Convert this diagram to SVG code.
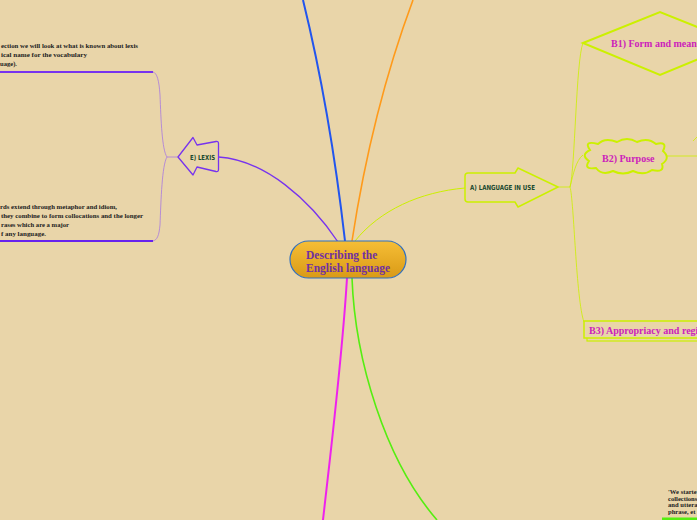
<svg xmlns="http://www.w3.org/2000/svg" width="697" height="520" viewBox="0 0 697 520">
<defs>
<linearGradient id="gold" x1="0" y1="0" x2="0" y2="1">
<stop offset="0" stop-color="#F6BE36"/>
<stop offset="1" stop-color="#D99A16"/>
</linearGradient>
</defs>
<style>
.note{font-family:"Liberation Serif","Times New Roman",serif;font-weight:bold;font-size:6.6px;fill:#222}
.btxt{font-family:"Liberation Serif","Times New Roman",serif;font-weight:bold;font-size:10px;fill:#CC22BB}
.ntxt{font-family:"DejaVu Sans Condensed","DejaVu Sans",sans-serif;font-weight:bold;font-size:7px;fill:#1A4A30}
.yg{fill:none;stroke:#CCF000}
</style>
<rect width="697" height="520" fill="#E9D5A9"/>
<g id="connectors" fill="none">
<path d="M345,241 Q330,110 303,0" stroke="#2255EE" stroke-width="2"/>
<path d="M352,241 Q372,110 413,0" stroke="#FF9A1A" stroke-width="1.6"/>
<path d="M338,242 C310,200 265,160 218.5,157" stroke="#7733EE" stroke-width="1.3"/>
<path d="M355,241 C380,210 420,192 465,188" stroke="#CCF000" stroke-width="1"/>
<path d="M347,278 C342,360 332,440 323,520" stroke="#EE22EE" stroke-width="2"/>
<path d="M352,278 C355,360 385,460 437,520" stroke="#55EE11" stroke-width="1.6"/>
<path d="M178,157 L167,157 C162,150 161,120 160,95 C159,80 157,73 153,72" stroke="#A878E0" stroke-width="0.8"/>
<path d="M167,157 C162,165 161,200 160,225 C159,236 157,240 153,241" stroke="#A878E0" stroke-width="0.8"/>
<path d="M0,72 L153,72" stroke="#7733EE" stroke-width="2"/>
<path d="M0,241 L153,241" stroke="#6622EE" stroke-width="2"/>
<path d="M558,187 L570,187" class="yg" stroke-width="0.8"/>
<path d="M570,187 C575,170 576,60 583,43" class="yg" stroke-width="0.8"/>
<path d="M570,187 C573,175 576,160 583,155" class="yg" stroke-width="0.8"/>
<path d="M570,187 C574,200 576,300 584,322" class="yg" stroke-width="0.8"/>
<path d="M667,156 L697,156" class="yg" stroke-width="0.8"/>
<path d="M693,141 L697,137" class="yg" stroke-width="0.8"/>
<path d="M662,519 L697,519" stroke="#55EE11" stroke-width="3"/>
</g>
<g id="center">
<rect x="290" y="241" width="116" height="37" rx="18.5" fill="url(#gold)" stroke="#3070C0" stroke-width="1.2"/>
<text x="306" y="259" font-family="Liberation Serif,serif" font-weight="bold" font-size="11.5" fill="#7030A0">Describing the</text>
<text x="306" y="271.5" font-family="Liberation Serif,serif" font-weight="bold" font-size="11.5" fill="#7030A0">English language</text>
</g>
<g id="nodeE">
<path d="M178,157 L193,137.5 L197,145 L216,141.5 Q218.5,141 218.5,143.5 L218.5,169.5 Q218.5,172 216,171.5 L197,167 L193,175 Z" fill="none" stroke="#7733EE" stroke-width="1.3" stroke-linejoin="round"/>
<text class="ntxt" x="190" y="160" textLength="25" lengthAdjust="spacingAndGlyphs">E) LEXIS</text>
</g>
<g id="nodeE-notes">
<text class="note" x="1" y="48" textLength="137" lengthAdjust="spacingAndGlyphs">ection we will look at what is known about lexis</text>
<text class="note" x="1" y="57" textLength="86" lengthAdjust="spacingAndGlyphs">ical name for the vocabulary</text>
<text class="note" x="0" y="66" textLength="17" lengthAdjust="spacingAndGlyphs">uage).</text>
<text class="note" x="0" y="209" textLength="117" lengthAdjust="spacingAndGlyphs">rds extend through metaphor and idiom,</text>
<text class="note" x="1" y="218" textLength="142" lengthAdjust="spacingAndGlyphs">they combine to form collocations and the longer</text>
<text class="note" x="1" y="227" textLength="68" lengthAdjust="spacingAndGlyphs">rases which are a major</text>
<text class="note" x="1" y="236" textLength="45" lengthAdjust="spacingAndGlyphs">f any language.</text>
</g>
<g id="nodeA">
<path d="M468,173 L515,173 L518,168 L558,187 L518,207 L515,202 L468,202 Q465,202 465,199 L465,176 Q465,173 468,173 Z" fill="none" stroke="#CCF000" stroke-width="1.5" stroke-linejoin="round"/>
<text class="ntxt" x="470" y="190" textLength="65" lengthAdjust="spacingAndGlyphs">A) LANGUAGE IN USE</text>
</g>
<g id="nodeB1">
<path d="M583,43 L660,12 L737,43 L660,75 Z" fill="none" stroke="#CCF000" stroke-width="2"/>
<text class="btxt" x="611" y="47">B1) Form and meaning</text>
</g>
<g id="nodeB2">
<path d="M590,150 Q583,140 598,144 Q605,137 617,142 Q627,136 637,142 Q648,137 656,144 Q668,141 663,151 Q671,158 662,164 Q665,173 652,170 Q644,176 633,171 Q623,176 613,171 Q602,176 596,168 Q583,170 589,161 Q580,155 590,150 Z" fill="none" stroke="#CCF000" stroke-width="2"/>
<text class="btxt" x="602" y="162">B2) Purpose</text>
</g>
<g id="nodeB3">
<rect x="587" y="324" width="130" height="17" fill="none" stroke="#CCF000" stroke-width="1.2"/>
<rect x="584" y="321" width="130" height="17" fill="#E9D5A9" stroke="#CCF000" stroke-width="1.5"/>
<text class="btxt" x="589" y="334">B3) Appropriacy and register</text>
</g>
<g id="noteBR">
<text class="note" x="668" y="494" font-size="6">'We starte</text>
<text class="note" x="668" y="500.5" font-size="6">collections</text>
<text class="note" x="668" y="507" font-size="6">and uttera</text>
<text class="note" x="668" y="513.5" font-size="6">phrase, et</text>
</g>
</svg>
